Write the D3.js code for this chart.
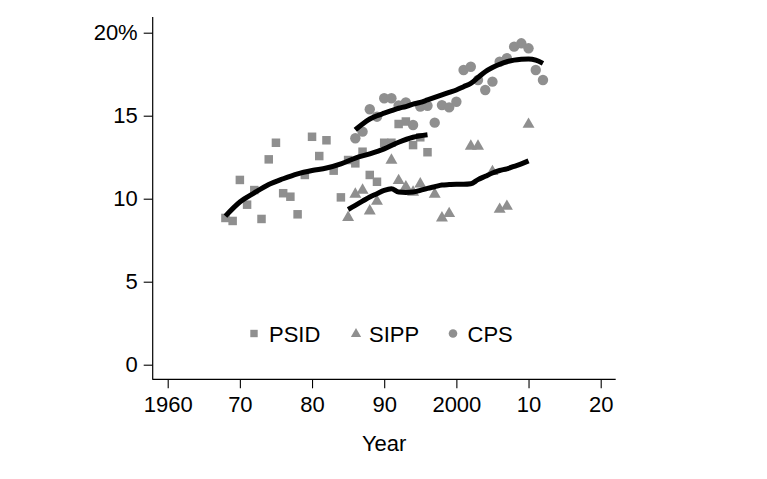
<!DOCTYPE html>
<html>
<head>
<meta charset="utf-8">
<script src="https://cdn.jsdelivr.net/npm/d3@7"></script>
<style>
  html, body { margin: 0; padding: 0; background: #fff; }
  svg { display: block; font-family: "Liberation Sans", Arial, Helvetica, sans-serif; }
</style>
</head>
<body>
<svg id="chart" width="767" height="479"></svg>
<script>
// ---- Data ----
const psidYears  = [1968,1969,1970,1971,1972,1973,1974,1975,1976,1977,1978,1979,1980,1981,1982,1983,1984,1985,1986,1987,1988,1989,1990,1991,1992,1993,1994,1995,1996];
const psidValues = [8.84,8.66,11.13,9.64,10.52,8.78,12.37,13.37,10.33,10.12,9.06,11.43,13.73,12.57,13.52,11.69,10.08,12.33,12.13,12.83,11.43,11.02,13.37,13.37,14.5,14.65,13.23,13.7,12.8];

const sippYears  = [1985,1986,1987,1988,1989,1991,1992,1993,1994,1995,1997,1998,1999,2002,2003,2005,2006,2007,2010];
const sippValues = [8.93,10.33,10.57,9.32,9.9,12.38,11.15,10.77,10.45,10.95,10.33,8.9,9.16,13.22,13.22,11.69,9.42,9.6,14.54];

const cpsYears  = [1986,1987,1988,1989,1990,1991,1992,1993,1994,1995,1996,1997,1998,1999,2000,2001,2002,2003,2004,2005,2006,2007,2008,2009,2010,2011,2012];
const cpsValues = [13.64,14.04,15.39,14.94,16.05,16.05,15.62,15.8,14.44,15.55,15.6,14.58,15.64,15.5,15.84,17.75,17.95,17.15,16.55,17.05,18.25,18.46,19.16,19.36,19.06,17.75,17.15];

const psidTrendYears  = [1968,1970,1972,1974,1976,1978,1980,1982,1984,1986,1988,1990,1992,1994,1996];
const psidTrendValues = [8.95,9.8,10.35,10.85,11.2,11.5,11.7,11.85,12.1,12.45,12.7,13.0,13.4,13.7,13.85];

const sippTrendYears  = [1985,1986,1987,1988,1989,1990,1991,1992,1993,1994,1995,1996,1997,1998,1999,2000,2001,2002,2003,2004,2005,2006,2007,2008,2009,2010];
const sippTrendValues = [9.35,9.6,9.85,10.1,10.3,10.5,10.6,10.4,10.38,10.4,10.5,10.62,10.72,10.82,10.85,10.87,10.87,10.9,11.15,11.35,11.55,11.7,11.8,11.95,12.1,12.28];

const cpsTrendYears  = [1986,1987,1988,1989,1990,1991,1992,1993,1994,1995,1996,1997,1998,1999,2000,2001,2002,2003,2004,2005,2006,2007,2008,2009,2010,2011,2012];
const cpsTrendValues = [14.15,14.5,14.8,15.0,15.15,15.3,15.45,15.55,15.7,15.8,15.95,16.1,16.25,16.4,16.55,16.75,16.95,17.3,17.65,17.9,18.1,18.25,18.35,18.4,18.42,18.35,18.15];

const xTickValues = [1960,1970,1980,1990,2000,2010,2020];
const xTickLabels = ["1960","70","80","90","2000","10","20"];
const yTickValues = [0,5,10,15,20];
const yTickLabels = ["0","5","10","15","20%"];

const legendNames = ["PSID","SIPP","CPS"];
const xTitle = "Year";

// ---- Layout ----
const svg = d3.select("#chart");
const gray = "#8f8f8f";
const x = d3.scaleLinear().domain([1960, 2020]).range([167.7, 600.7]);
const y = d3.scaleLinear().domain([0, 20]).range([364.7, 32.7]);
const axisX = 152.7, axisY = 379.3;

// axis lines
svg.append("line").attr("x1", axisX).attr("x2", axisX).attr("y1", 17).attr("y2", axisY + 0.5)
  .attr("stroke", "#000").attr("stroke-width", 1.2);
svg.append("line").attr("x1", axisX).attr("x2", 615.7).attr("y1", axisY).attr("y2", axisY)
  .attr("stroke", "#000").attr("stroke-width", 1.2);

const yAxis = d3.axisLeft(y).tickValues(yTickValues)
  .tickFormat((d, i) => yTickLabels[i]).tickSize(9).tickPadding(6);
const gy = svg.append("g").attr("transform", `translate(${axisX},0)`).call(yAxis);
gy.select(".domain").remove();
gy.selectAll("line").attr("stroke", "#000").attr("stroke-width", 1.1);
gy.selectAll("text").attr("font-size", 22).attr("fill", "#000")
  .attr("font-family", "'Liberation Sans', Arial, sans-serif");

const xAxis = d3.axisBottom(x).tickValues(xTickValues)
  .tickFormat((d, i) => xTickLabels[i]).tickSize(9).tickPadding(8.5);
const gx = svg.append("g").attr("transform", `translate(0,${axisY})`).call(xAxis);
gx.select(".domain").remove();
gx.selectAll("line").attr("stroke", "#000").attr("stroke-width", 1.1);
gx.selectAll("text").attr("font-size", 22).attr("fill", "#000")
  .attr("font-family", "'Liberation Sans', Arial, sans-serif");

svg.append("text").attr("x", x(1990)).attr("y", 451).attr("text-anchor", "middle")
  .attr("font-size", 22).attr("fill", "#000").text(xTitle);

// ---- Markers ----
const sq = 8.5;
svg.append("g").selectAll("rect").data(psidYears).join("rect")
  .attr("x", (d) => x(d) - sq / 2)
  .attr("y", (d, i) => y(psidValues[i]) - sq / 2)
  .attr("width", sq).attr("height", sq).attr("fill", gray);

const tri = d3.symbol().type(d3.symbolTriangle).size(62);
svg.append("g").selectAll("path").data(sippYears).join("path")
  .attr("d", tri)
  .attr("transform", (d, i) => `translate(${x(d)},${y(sippValues[i]) + 1})`)
  .attr("fill", gray);

svg.append("g").selectAll("circle").data(cpsYears).join("circle")
  .attr("cx", (d) => x(d))
  .attr("cy", (d, i) => y(cpsValues[i]))
  .attr("r", 5.2).attr("fill", gray);

// ---- Trend lines ----
const line = d3.line().x((d) => x(d[0])).y((d) => y(d[1])).curve(d3.curveMonotoneX);
const trends = [
  [psidTrendYears, psidTrendValues],
  [sippTrendYears, sippTrendValues],
  [cpsTrendYears, cpsTrendValues]
];
trends.forEach(([ys, vs]) => {
  svg.append("path").datum(ys.map((yy, i) => [yy, vs[i]]))
    .attr("d", line).attr("fill", "none").attr("stroke", "#000")
    .attr("stroke-width", 5).attr("stroke-linejoin", "round");
});

// ---- Legend ----
const lg = svg.append("g");
const ly = 333.5;
lg.append("rect").attr("x", 254 - 3.7).attr("y", ly - 3.7).attr("width", 7.4).attr("height", 7.4).attr("fill", gray);
lg.append("path").attr("d", d3.symbol().type(d3.symbolTriangle).size(46))
  .attr("transform", `translate(356,${ly + 0.5})`).attr("fill", gray);
lg.append("circle").attr("cx", 453).attr("cy", ly).attr("r", 4.3).attr("fill", gray);
const textX = [269, 369, 467.5];
legendNames.forEach((n, i) => {
  lg.append("text").attr("x", textX[i]).attr("y", ly + 8).attr("font-size", 22)
    .attr("fill", "#000").text(n);
});
</script>
</body>
</html>
